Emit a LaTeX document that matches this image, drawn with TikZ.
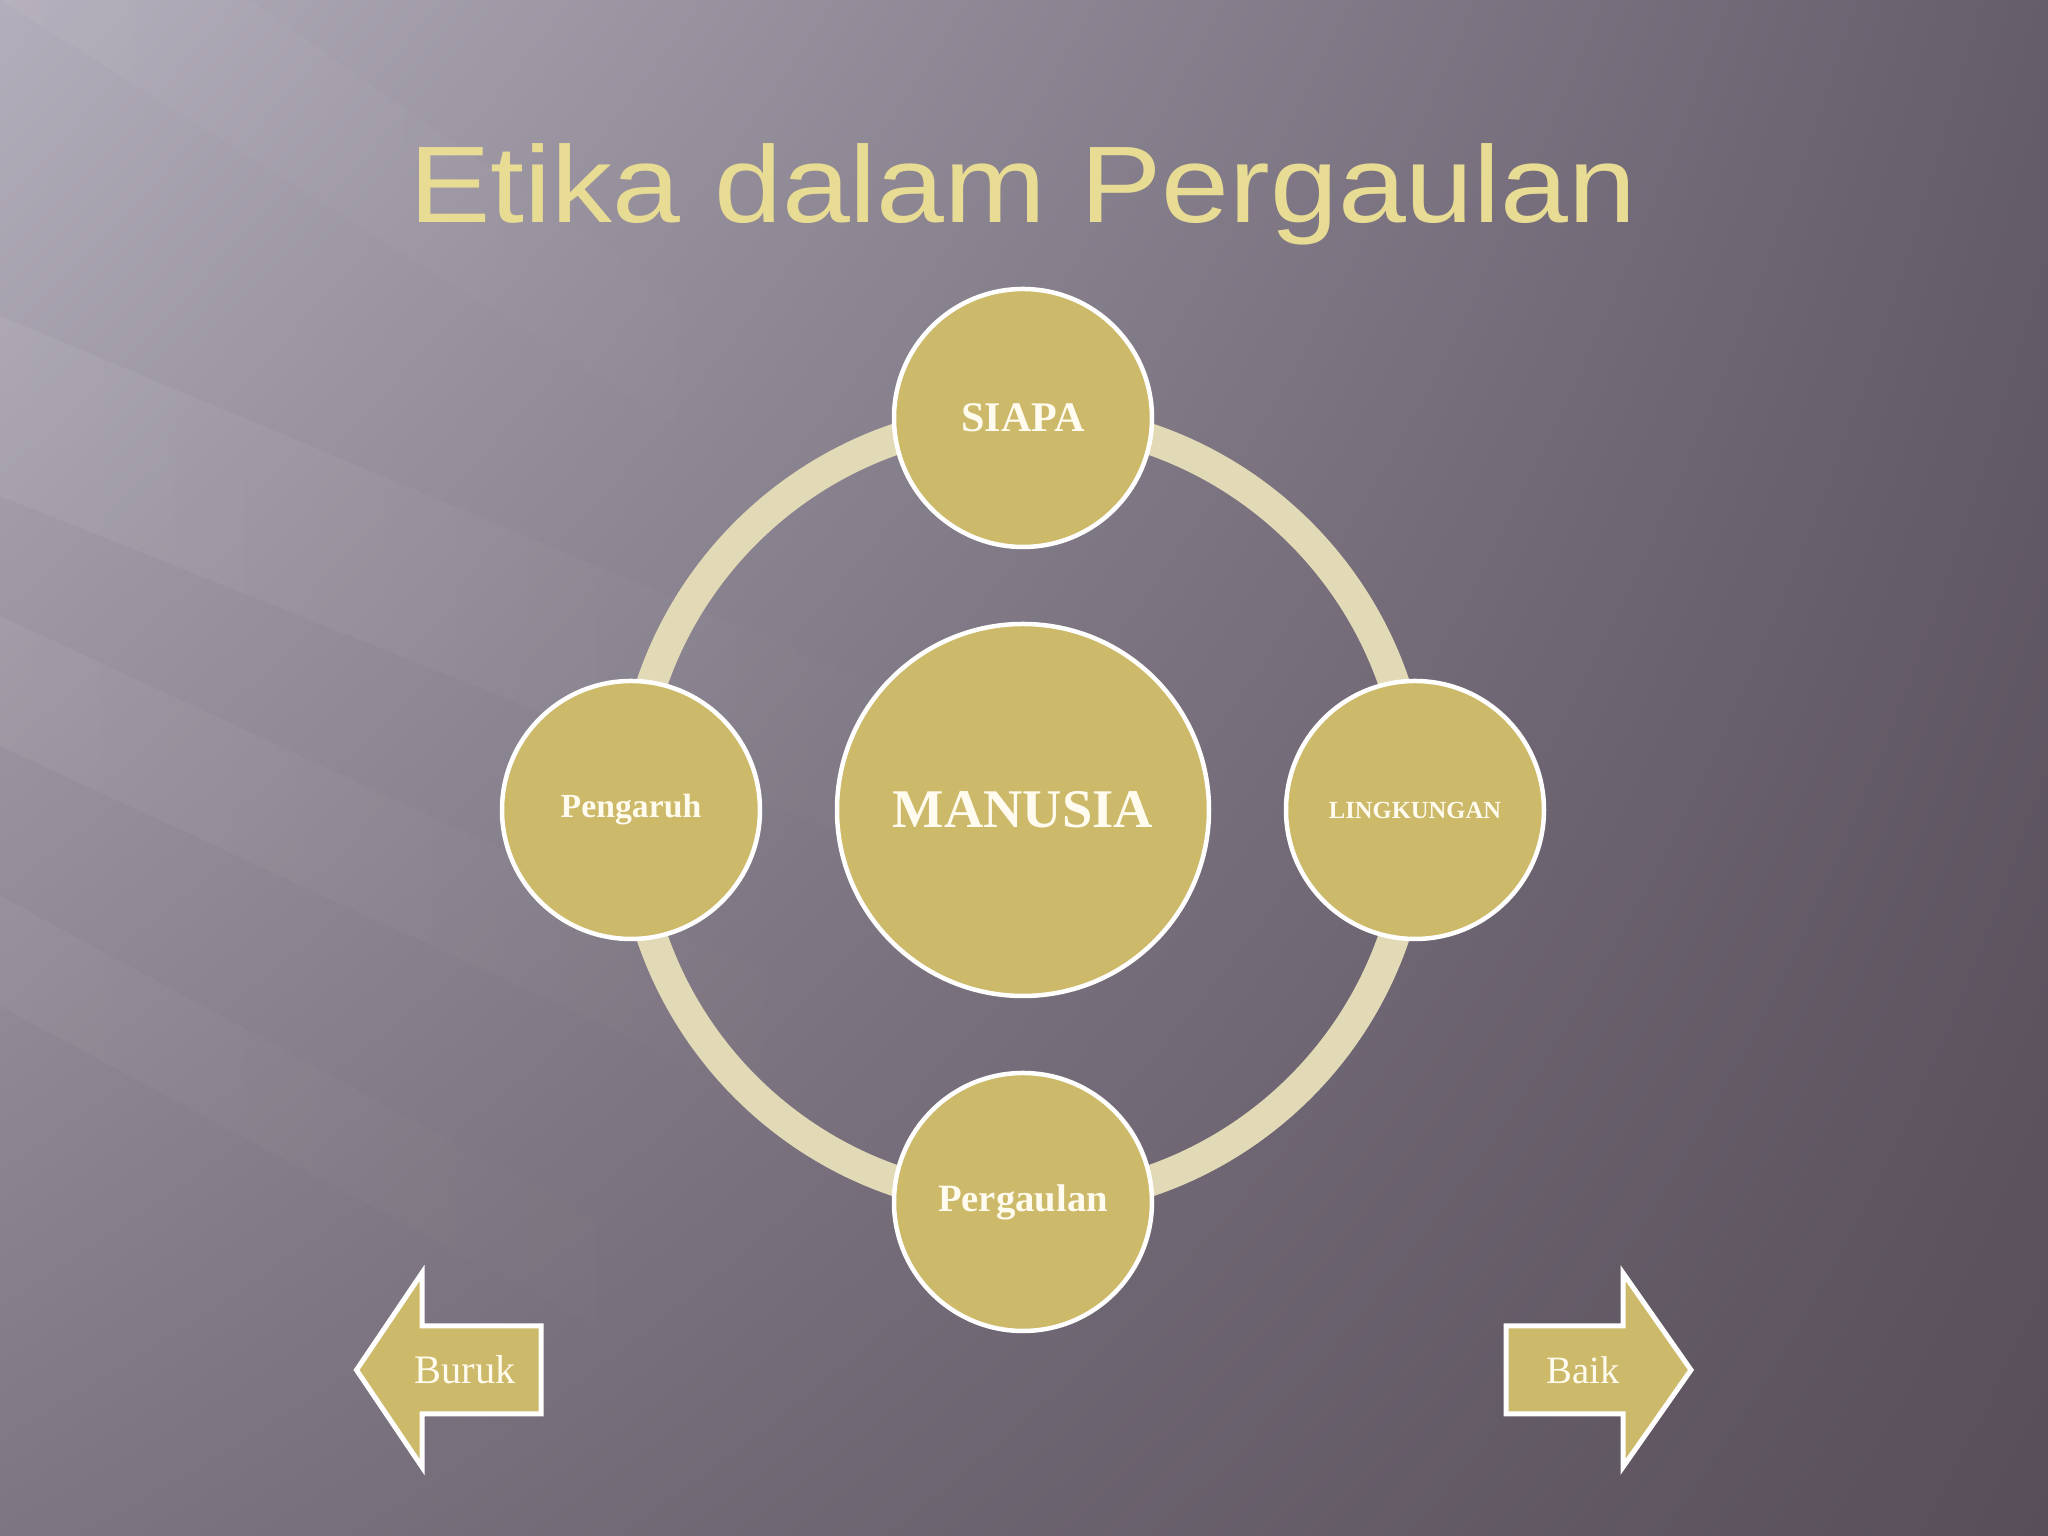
\documentclass[tikz,border=0pt]{standalone}
\usepackage{fontspec}
\setmainfont{Liberation Serif}
\newfontfamily\titlefont{Liberation Sans}
\usetikzlibrary{fadings,shadings}
\definecolor{bgTL}{HTML}{B3AEBB}
\definecolor{bgTR}{HTML}{665D6B}
\definecolor{bgBL}{HTML}{7D7682}
\definecolor{bgBR}{HTML}{574E59}
\definecolor{gold}{HTML}{CDB96A}
\definecolor{ringcol}{HTML}{E2D9B6}
\definecolor{titlecol}{HTML}{E8DB93}
\definecolor{cream}{HTML}{FFFBEE}
\tikzset{
  bubble/.style={circle, draw=white, line width=0.045cm, fill=gold, text=cream, inner sep=0pt},
  sat/.style={bubble, minimum size=2.58cm},
  pointer/.style={draw=white, line width=0.05cm, fill=gold, line join=miter},
  lbl/.style={text=cream, inner sep=0pt}
}
\begin{document}
\begin{tikzpicture}[x=1cm, y=1cm]
  % Background
  \useasboundingbox (0,0) rectangle (20.48,15.36);
  \shade[upper left=bgTL, upper right=bgTR, lower left=bgBL, lower right=bgBR] (0,0) rectangle (20.48,15.36);
  \fill[white, opacity=0.06, path fading=east] (0,12.2) -- (0,10.4) -- (9.5,6.6) -- (10.5,7.8) -- cycle;
  \fill[white, opacity=0.05, path fading=east] (0,9.2) -- (0,7.9) -- (8.0,4.2) -- (8.6,5.2) -- cycle;
  \fill[white, opacity=0.04, path fading=east] (0,6.4) -- (0,5.3) -- (6.5,1.8) -- (7.0,2.6) -- cycle;
  \fill[white, opacity=0.04, path fading=east] (0,15.36) -- (2.5,15.36) -- (9.0,10.8) -- (8.2,10.2) -- cycle;

  % Title
  \node[text=titlecol, xscale=1.12, transform shape] (title) at (10.23,13.42) {\titlefont\fontsize{31}{36}\selectfont Etika dalam Pergaulan};

  % Ring
  \draw[ringcol, line width=0.31cm] (10.23,7.26) circle (3.92);

  % Circles
  \node[bubble, minimum size=3.72cm] (man) at (10.23,7.26) {\fontsize{15.5}{18}\selectfont\bfseries MANUSIA};
  \node[sat] (siapa) at (10.23,11.18) {\fontsize{12}{14}\selectfont\bfseries SIAPA};
  \node[sat] (pengaruh) at (6.31,7.26) {\fontsize{9.6}{12}\selectfont\bfseries Pengaruh};
  \node[sat] (lingkungan) at (14.15,7.26) {\fontsize{7}{9}\selectfont\bfseries LINGKUNGAN};
  \node[sat] (pergaulan) at (10.23,3.34) {\fontsize{11}{13}\selectfont\bfseries Pergaulan};

  % Arrows
  \draw[pointer] (3.565,1.66) -- (4.22,2.63) -- (4.22,2.10) -- (5.41,2.10) -- (5.41,1.22)
    -- (4.22,1.22) -- (4.22,0.69) -- cycle;
  \draw[pointer] (16.91,1.66) -- (16.23,2.63) -- (16.23,2.10) -- (15.06,2.10) -- (15.06,1.22)
    -- (16.23,1.22) -- (16.23,0.69) -- cycle;
  \node[lbl] (buruk) at (4.65,1.66) {\fontsize{11.5}{14}\selectfont Buruk};
  \node[lbl] (baik) at (15.83,1.66) {\fontsize{11}{14}\selectfont Baik};
\end{tikzpicture}
\end{document}
